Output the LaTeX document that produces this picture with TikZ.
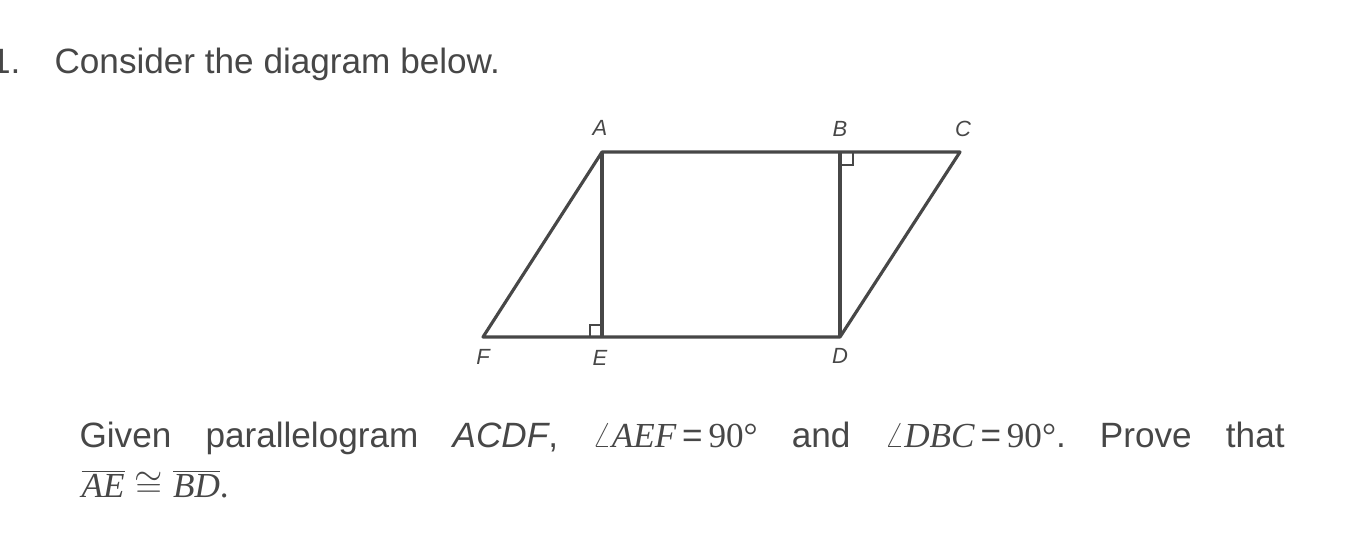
\documentclass[tikz,border=0pt]{standalone}
\usepackage{fontspec}
\setmainfont{Liberation Sans}
\newfontfamily\timesfont{Liberation Serif}
\frenchspacing

\begin{document}
\begin{tikzpicture}[
line width=1.8 pt,
color=black!72,
vertexlabel/.style={
font=\fontsize{12.5}{13}\selectfont\itshape,
inner sep=0 pt,
},
prosetext/.style={
font=\fontsize{20}{23}\selectfont,
inner sep=0 pt,
anchor=base west,
},
]
\useasboundingbox (0,0) rectangle (27.42,-10.86);

% vertices
\path
(12.04,-3.04) coordinate(A)
(16.8,-3.04) coordinate(B)
(19.2,-3.04) coordinate(C)
(16.8,-6.74) coordinate(D)
(12.04,-6.74) coordinate(E)
(9.66,-6.74) coordinate(F)
;

% parallelogram ACDF
\draw[line join=round] (A) -- (C) -- (D) -- (F) -- cycle;

% altitudes
\draw
(A) -- (E)
(B) -- (D)
;

% right angles
\draw[line width=1.1 pt]
(E) ++(-0.24,0) -- ++(0,0.24) -- ++(0.24,0)
(B) ++(0,-0.26) -- ++(0.26,0) -- ++(0,0.26)
;

% labels for vertices
\path[every node/.style={vertexlabel}]
(A) +(-0.04,0.48) node (lA) {A}
(B) +(0,0.46) node (lB) {B}
(C) +(0.06,0.46) node (lC) {C}
(D) +(0,-0.38) node (lD) {D}
(E) +(-0.04,-0.42) node (lE) {E}
(F) +(0,-0.4) node (lF) {F}
;

% question text
\path[every node/.style={prosetext}]
(0.44,-1.48) node[anchor=base east] (num) {1.}
(1.06,-1.48) node (intro) {Consider the diagram below.}
(1.56,-8.94) node (given) {\makebox[24.1cm][s]{Given parallelogram \textit{ACDF},
\(\angle\){\timesfont\itshape AEF}\,=\,{\timesfont 90°} and
\(\angle\){\timesfont\itshape DBC}\,=\,{\timesfont 90°}. Prove that}}
(1.6,-9.94) node (prove) {\(\overline{\hbox{\timesfont\itshape AE}}\cong
\overline{\hbox{\timesfont\itshape BD}}\){\timesfont.}}
;

\end{tikzpicture}
\end{document}
